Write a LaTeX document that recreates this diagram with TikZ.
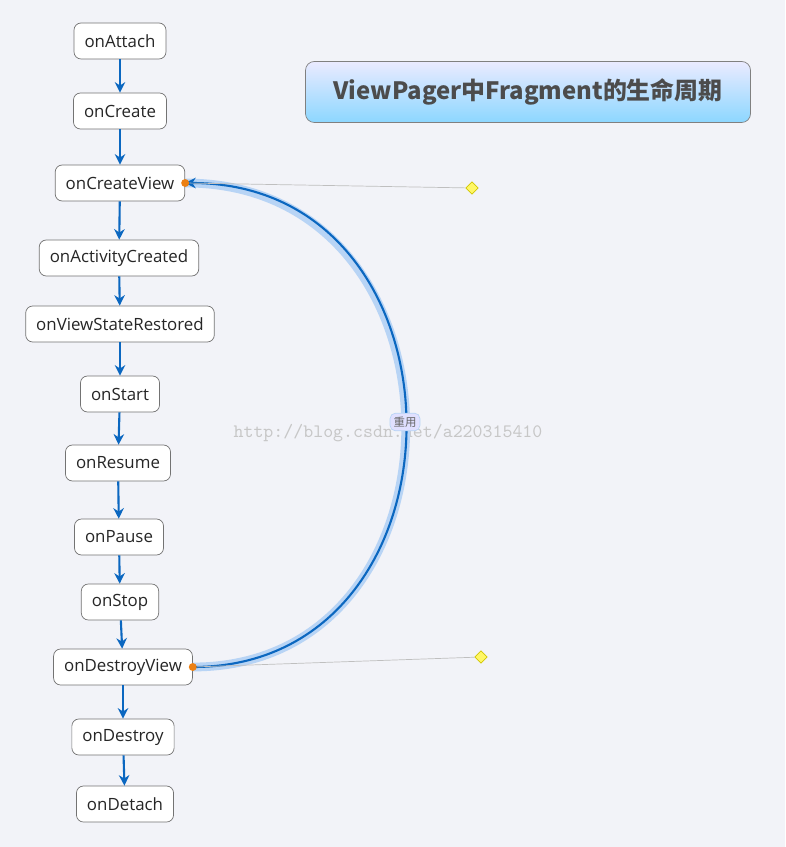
\documentclass[tikz,border=0pt]{standalone}
\usepackage{fontspec}
\setmainfont{Open Sans}
\newfontfamily\cjk{Noto Sans CJK SC}
\usetikzlibrary{arrows.meta,shapes.geometric}
\definecolor{bgcol}{HTML}{F2F3F8}
\definecolor{flowblue}{HTML}{0B67C0}
\definecolor{halo}{HTML}{B8D4F5}
\tikzset{
    stage/.style={draw=black!55, rounded corners=4pt, fill=white, minimum height=36*0.02cm,
        inner xsep=6pt, font=\fontsize{9.6}{11}\selectfont, text=black!85},
    flow/.style={-{Stealth[length=6pt,width=6pt]}, very thick, draw=flowblue},
    pin/.style={circle, fill=orange!70!brown, inner sep=1.6pt},
    tipmark/.style={diamond, draw=yellow!60!olive, fill=yellow!60, inner sep=1.8pt}
}
\begin{document}
\begin{tikzpicture}[x=0.02cm, y=-0.02cm]

        % Canvas
        \fill[bgcol] (0,0) rectangle (785,847);
        \useasboundingbox (0,0) rectangle (785,847);

        % Title
        \node (title) [draw=black!50, rounded corners=5pt, top color=blue!8, bottom color=blue!35!cyan!45,
            minimum width=445*0.02cm, minimum height=61*0.02cm, font=\cjk\bfseries\fontsize{13.6}{15}\selectfont, text=black!70]
            at (528,92) {ViewPager中Fragment的生命周期};

        % Lifecycle stages
        \node (attach)   [stage] at (120,41)  {onAttach};
        \node (create)   [stage] at (120,111) {onCreate};
        \node (cview)    [stage] at (120,183) {onCreateView};
        \node (actcr)    [stage] at (119,258) {onActivityCreated};
        \node (vsr)      [stage] at (120,324) {onViewStateRestored};
        \node (start)    [stage] at (120,394) {onStart};
        \node (resume)   [stage] at (118,463) {onResume};
        \node (pause)    [stage] at (119,537) {onPause};
        \node (stop)     [stage] at (120,602) {onStop};
        \node (dview)    [stage] at (123,667) {onDestroyView};
        \node (destroy)  [stage] at (123,737) {onDestroy};
        \node (detach)   [stage] at (125,804) {onDetach};

        % Arrows down the chain
        \foreach \a/\b in {attach/create, create/cview, cview/actcr, actcr/vsr, vsr/start,
                           start/resume, resume/pause, pause/stop, stop/dview, dview/destroy, destroy/detach}
            \draw[flow] (\a) -- (\b);

        % Watermark
        \node (wm) [text=black!22, font=\ttfamily\fontsize{10.8}{12}\selectfont] at (388,433) {http://blog.csdn.net/a220315410};

        % Reuse arc
        \coordinate (dend) at (dview.east);
        \coordinate (cend) at (cview.east);
        \draw[halo, line width=5pt] (dend) .. controls (478,667) and (478,183) .. (cend);
        \draw[flow] (dend) .. controls (478,667) and (478,183) .. (cend);
        \node (reuse) [draw=halo, fill=blue!12, rounded corners=3pt, inner sep=2pt, text=black!60,
            font=\cjk\fontsize{6.5}{7}\selectfont] at (405,422) {重用};

        % Pins and markers
        \node (pc) [pin] at (cend) {};
        \node (pd) [pin] at (dend) {};
        \node (mc) [tipmark] at (472,188) {};
        \node (md) [tipmark] at (481,657) {};
        \draw[black!25] (pc) -- (mc);
        \draw[black!25] (pd) -- (md);

\end{tikzpicture}
\end{document}
